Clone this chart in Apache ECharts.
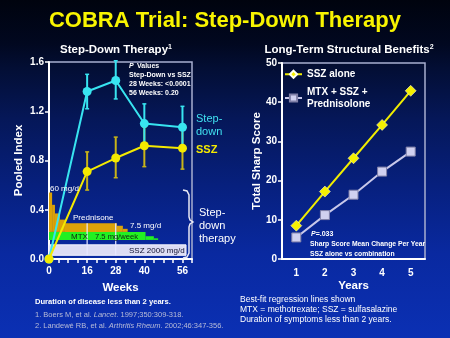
<!DOCTYPE html>
<html><head><meta charset="utf-8">
<script src="https://cdn.jsdelivr.net/npm/echarts@6/dist/echarts.min.js"></script>
<style>html,body{margin:0;padding:0;background:#000}#c{width:450px;height:338px}</style>
</head><body><div id="c"></div>
<script>
// ---- Data ----
var weeks = [0, 16, 28, 40, 56];
var weekLabels = [0, 16, 28, 40, 56];
var stepDown = [0, 1.36, 1.45, 1.10, 1.07];
var ssz = [0, 0.71, 0.82, 0.92, 0.90];
// error bars [week, low, high]
var stepDownErr = [[16, 1.22, 1.50], [28, 1.30, 1.61], [40, 0.93, 1.26], [56, 0.90, 1.24]];
var sszErr = [[16, 0.56, 0.87], [28, 0.66, 0.99], [40, 0.75, 1.07], [56, 0.73, 1.06]];
// dosing schedule blocks [startWeek, endWeek, low, high]
var prednisoneBlocks = [[0, 1.3, 0.22, 0.54], [1.3, 2.5, 0.22, 0.44], [2.5, 4.6, 0.22, 0.37], [4.6, 6.7, 0.22, 0.32], [6.7, 28.5, 0.22, 0.29], [28.5, 31, 0.22, 0.27], [31, 33, 0.22, 0.245]];
var mtxBlocks = [[0, 40.5, 0.155, 0.22], [40.5, 44, 0.155, 0.185], [44, 45.8, 0.155, 0.168]];
var sszBlocks = [[0, 57.5, 0.03, 0.115]];
var dividerWeeks = [16, 28];

var years = ['1', '2', '3', '4', '5'];
var sszAlone = [8.5, 17.2, 25.7, 34.2, 42.9];
var combination = [5.5, 11.2, 16.4, 22.3, 27.4];
var pooledTicks = [0, 0.4, 0.8, 1.2, 1.6];
var sharpTicks = [0, 10, 20, 30, 40, 50];

var chart = echarts.init(document.getElementById('c'), null, {renderer: 'canvas'});
var FONT = 'Liberation Sans, Arial, sans-serif';

function blockItem(color, stroke) {
  return function (params, api) {
    var p0 = api.coord([api.value(0), api.value(3)]);
    var p1 = api.coord([api.value(1), api.value(2)]);
    return {type: 'rect', shape: {x: p0[0], y: p0[1], width: p1[0] - p0[0], height: p1[1] - p0[1]},
      style: {fill: color, stroke: stroke || null, lineWidth: stroke ? 1 : 0}};
  };
}
function errItem(color) {
  return function (params, api) {
    var a = api.coord([api.value(0), api.value(1)]);
    var b = api.coord([api.value(0), api.value(2)]);
    return {type: 'group', children: [
      {type: 'line', shape: {x1: a[0], y1: a[1], x2: b[0], y2: b[1]}, style: {stroke: color, lineWidth: 2}},
      {type: 'line', shape: {x1: a[0] - 2, y1: a[1], x2: a[0] + 2, y2: a[1]}, style: {stroke: color, lineWidth: 1.5}},
      {type: 'line', shape: {x1: b[0] - 2, y1: b[1], x2: b[0] + 2, y2: b[1]}, style: {stroke: color, lineWidth: 1.5}}
    ]};
  };
}

var txt = function (x, y, text, opts) {
  opts = opts || {};
  return {type: 'text', x: x, y: y, z: 50, style: Object.assign({
    text: text, fill: '#ffffff', font: (opts.weight || 'bold') + ' ' + (opts.size || 9) + 'px ' + FONT,
    textAlign: opts.align || 'left', textVerticalAlign: 'middle'}, opts.style || {})};
};

var option = {
  backgroundColor: {type: 'linear', x: 0, y: 0, x2: 0, y2: 1, colorStops: [
    {offset: 0, color: '#00030e'}, {offset: 0.13, color: '#010820'}, {offset: 0.2, color: '#030e34'},
    {offset: 0.35, color: '#051758'}, {offset: 0.55, color: '#07207e'}, {offset: 0.75, color: '#0929a0'},
    {offset: 1, color: '#0b30b4'}]},
  animation: false,
  textStyle: {fontFamily: FONT},
  grid: [
    {left: 49, right: 258, top: 62, bottom: 79, show: true, borderColor: '#a8aed0', borderWidth: 1.5, backgroundColor: 'transparent'},
    {left: 282, right: 25, top: 63, bottom: 79, show: true, borderColor: '#a8aed0', borderWidth: 1.5, backgroundColor: 'transparent'}
  ],
  xAxis: [
    {gridIndex: 0, type: 'value', min: 0, max: 60, interval: 4,
      name: 'Weeks', nameLocation: 'middle', nameGap: 22.5, nameMoveOverlap: false,
      nameTextStyle: {color: '#fff', fontWeight: 'bold', fontSize: 11.5, fontFamily: FONT},
      axisLine: {lineStyle: {color: '#fff', width: 2}},
      axisTick: {length: 4, lineStyle: {color: '#fff', width: 1.5}},
      axisLabel: {color: '#fff', fontWeight: 'bold', fontSize: 10, margin: 7,
        formatter: function (v) { return weekLabels.indexOf(v) >= 0 ? String(v) : ''; }},
      splitLine: {show: false}},
    {gridIndex: 1, type: 'category', data: years, boundaryGap: true,
      name: 'Years', nameLocation: 'middle', nameGap: 21, nameMoveOverlap: false,
      nameTextStyle: {color: '#fff', fontWeight: 'bold', fontSize: 11.5, fontFamily: FONT},
      axisLine: {lineStyle: {color: '#fff', width: 2}},
      axisTick: {length: 5, lineStyle: {color: '#fff', width: 1.5}},
      axisLabel: {color: '#fff', fontWeight: 'bold', fontSize: 10, margin: 9}}
  ],
  yAxis: [
    {gridIndex: 0, type: 'value', min: 0, max: 1.6, interval: 0.4,
      name: 'Pooled Index', nameLocation: 'middle', nameGap: 24, nameMoveOverlap: false,
      nameTextStyle: {color: '#fff', fontWeight: 'bold', fontSize: 11.5, fontFamily: FONT},
      axisLine: {show: true, lineStyle: {color: '#fff', width: 2}},
      axisTick: {show: true, length: 4, lineStyle: {color: '#fff', width: 1.5}},
      axisLabel: {color: '#fff', fontWeight: 'bold', fontSize: 10, margin: 5,
        formatter: function (v) { return v.toFixed(1); }},
      splitLine: {show: false}},
    {gridIndex: 1, type: 'value', min: 0, max: 50, interval: 10,
      name: 'Total Sharp Score', nameLocation: 'middle', nameGap: 19, nameMoveOverlap: false,
      nameTextStyle: {color: '#fff', fontWeight: 'bold', fontSize: 11.5, fontFamily: FONT},
      axisLine: {show: true, lineStyle: {color: '#fff', width: 2}},
      axisTick: {show: true, length: 4, lineStyle: {color: '#fff', width: 1.5}},
      axisLabel: {color: '#fff', fontWeight: 'bold', fontSize: 10, margin: 5},
      splitLine: {show: false}}
  ],
  legend: {orient: 'vertical', left: 284, top: 68, itemGap: 5, itemWidth: 17, itemHeight: 9, padding: 0,
    textStyle: {color: '#fff', fontWeight: 'bold', fontSize: 10, fontFamily: FONT, lineHeight: 12.5},
    data: ['SSZ alone', 'MTX + SSZ +\nPrednisolone']},
  series: [
    {type: 'custom', xAxisIndex: 0, yAxisIndex: 0, renderItem: blockItem('#dcdcf4', '#f4f4ff'), data: sszBlocks, z: 2, silent: true},
    {type: 'custom', xAxisIndex: 0, yAxisIndex: 0, renderItem: blockItem('#22f022'), data: mtxBlocks, z: 2, silent: true},
    {type: 'custom', xAxisIndex: 0, yAxisIndex: 0, renderItem: blockItem('#dca208'), data: prednisoneBlocks, z: 2, silent: true},
    {type: 'custom', xAxisIndex: 0, yAxisIndex: 0, z: 3, silent: true,
      renderItem: function (params, api) {
        var a = api.coord([api.value(0), 0.03]);
        var b = api.coord([api.value(0), 0.29]);
        return {type: 'line', shape: {x1: a[0], y1: a[1], x2: b[0], y2: b[1]}, style: {stroke: '#e8e8ff', lineWidth: 1.2}};
      }, data: dividerWeeks.map(function (w) { return [w]; })},
    {type: 'custom', xAxisIndex: 0, yAxisIndex: 0, renderItem: errItem('#c8b418'), data: sszErr, z: 4},
    {type: 'custom', xAxisIndex: 0, yAxisIndex: 0, renderItem: errItem('#38e4f0'), data: stepDownErr, z: 5},
    {type: 'line', name: 'Step-down', xAxisIndex: 0, yAxisIndex: 0, z: 6,
      data: weeks.map(function (w, i) { return [w, stepDown[i]]; }),
      symbol: 'circle', symbolSize: 9, color: '#38e4f0', lineStyle: {width: 2, color: '#38e4f0'}},
    {type: 'line', name: 'SSZ', xAxisIndex: 0, yAxisIndex: 0, z: 7,
      data: weeks.map(function (w, i) { return [w, ssz[i]]; }),
      symbol: 'circle', symbolSize: 9, color: '#f4ea00', lineStyle: {width: 2, color: '#f4ea00'}},
    {type: 'line', name: 'MTX + SSZ +\nPrednisolone', xAxisIndex: 1, yAxisIndex: 1, data: combination,
      symbol: 'rect', symbolSize: 9, color: '#d0d0f0', itemStyle: {borderColor: '#8080a8', borderWidth: 1},
      lineStyle: {width: 2, color: '#c8c8ea'}},
    {type: 'line', name: 'SSZ alone', xAxisIndex: 1, yAxisIndex: 1, data: sszAlone,
      symbol: 'diamond', symbolSize: 11, color: '#f6f000', itemStyle: {borderColor: '#fffff0', borderWidth: 0.5},
      lineStyle: {width: 2, color: '#f0ec00'}}
  ],
  graphic: [
    txt(225, 21, 'COBRA Trial: Step-Down Therapy', {size: 22, style: {fill: '#f8f400'}, align: 'center'}),
    {type: 'text', x: 116, y: 50, z: 50, style: {text: '{a|Step-Down Therapy}{s|1}', textAlign: 'center', textVerticalAlign: 'middle',
      rich: {a: {fill: '#fff', font: 'bold 11.5px ' + FONT}, s: {fill: '#fff', font: 'bold 7px ' + FONT, verticalAlign: 'top', padding: [0, 0, 6, 0]}}}},
    {type: 'text', x: 349, y: 50, z: 50, style: {text: '{a|Long-Term Structural Benefits}{s|2}', textAlign: 'center', textVerticalAlign: 'middle',
      rich: {a: {fill: '#fff', font: 'bold 11.5px ' + FONT}, s: {fill: '#fff', font: 'bold 7px ' + FONT, verticalAlign: 'top', padding: [0, 0, 6, 0]}}}},
    {type: 'text', x: 129, y: 66.5, z: 50, style: {text: '{i|P} {b|Values}', textVerticalAlign: 'middle',
      rich: {i: {fill: '#fff', font: 'italic bold 7px ' + FONT}, b: {fill: '#fff', font: 'bold 7px ' + FONT}}}},
    txt(129, 75.2, 'Step-Down vs SSZ', {size: 7}),
    txt(129, 84, '28 Weeks: <0.0001', {size: 7}),
    txt(129, 92.7, '56 Weeks: 0.20', {size: 7}),
    txt(196, 119, 'Step-', {style: {fill: '#40e0f0', font: '11px ' + FONT}}),
    txt(196, 132, 'down', {style: {fill: '#40e0f0', font: '11px ' + FONT}}),
    txt(196, 150, 'SSZ', {size: 11, style: {fill: '#f4ea00'}}),
    txt(199, 213, 'Step-', {style: {font: '11px ' + FONT}}),
    txt(199, 226, 'down', {style: {font: '11px ' + FONT}}),
    txt(199, 239, 'therapy', {style: {font: '11px ' + FONT}}),
    {type: 'polyline', z: 50, shape: {points: [[183, 190], [187, 191], [189, 195], [189, 217], [190, 220], [193, 222], [190, 224], [189, 227], [189, 253], [187, 257], [183, 258]]},
      style: {stroke: '#e8e8f4', lineWidth: 1.5, fill: null}},
    txt(50, 189, '60 mg/d', {style: {font: '8px ' + FONT}}),
    txt(73, 218, 'Prednisone', {style: {font: '8px ' + FONT}}),
    txt(130, 226, '7.5 mg/d', {style: {font: '8px ' + FONT}}),
    txt(71, 236.5, 'MTX', {style: {fill: '#102010', font: '8px ' + FONT}}),
    txt(95, 236.5, '7.5 mg/week', {style: {fill: '#102010', font: '7.6px ' + FONT}}),
    txt(129, 251, 'SSZ 2000 mg/d', {style: {fill: '#101030', font: '8px ' + FONT}}),
    {type: 'text', x: 311, y: 234, z: 50, style: {text: '{i|P}{b|=.033}', textVerticalAlign: 'middle',
      rich: {i: {fill: '#fff', font: 'italic bold 7px ' + FONT}, b: {fill: '#fff', font: 'bold 7px ' + FONT}}}},
    txt(310, 244.5, 'Sharp Score Mean Change Per Year', {style: {font: 'bold 6.8px ' + FONT}}),
    txt(310, 254.5, 'SSZ alone vs combination', {style: {font: 'bold 6.8px ' + FONT}}),
    txt(35, 302, 'Duration of disease less than 2 years.', {style: {font: 'bold 7.6px ' + FONT}}),
    {type: 'text', x: 35, y: 315, z: 50, style: {text: '{n|1. Boers M, et al. }{i|Lancet}{n|. 1997;350:309-318.}', textVerticalAlign: 'middle',
      rich: {n: {fill: '#b8bcd8', font: '7.5px ' + FONT}, i: {fill: '#b8bcd8', font: 'italic 7.5px ' + FONT}}}},
    {type: 'text', x: 35, y: 325.5, z: 50, style: {text: '{n|2. Landewé RB, et al. }{i|Arthritis Rheum}{n|. 2002;46:347-356.}', textVerticalAlign: 'middle',
      rich: {n: {fill: '#b8bcd8', font: '7.5px ' + FONT}, i: {fill: '#b8bcd8', font: 'italic 7.5px ' + FONT}}}},
    txt(240, 300, 'Best-fit regression lines shown', {style: {font: '8.5px ' + FONT}}),
    txt(240, 310, 'MTX = methotrexate; SSZ = sulfasalazine', {style: {font: '8.5px ' + FONT}}),
    txt(240, 320, 'Duration of symptoms less than 2 years.', {style: {font: '8.5px ' + FONT}})
  ]
};
chart.setOption(option);
</script>
</body></html>
